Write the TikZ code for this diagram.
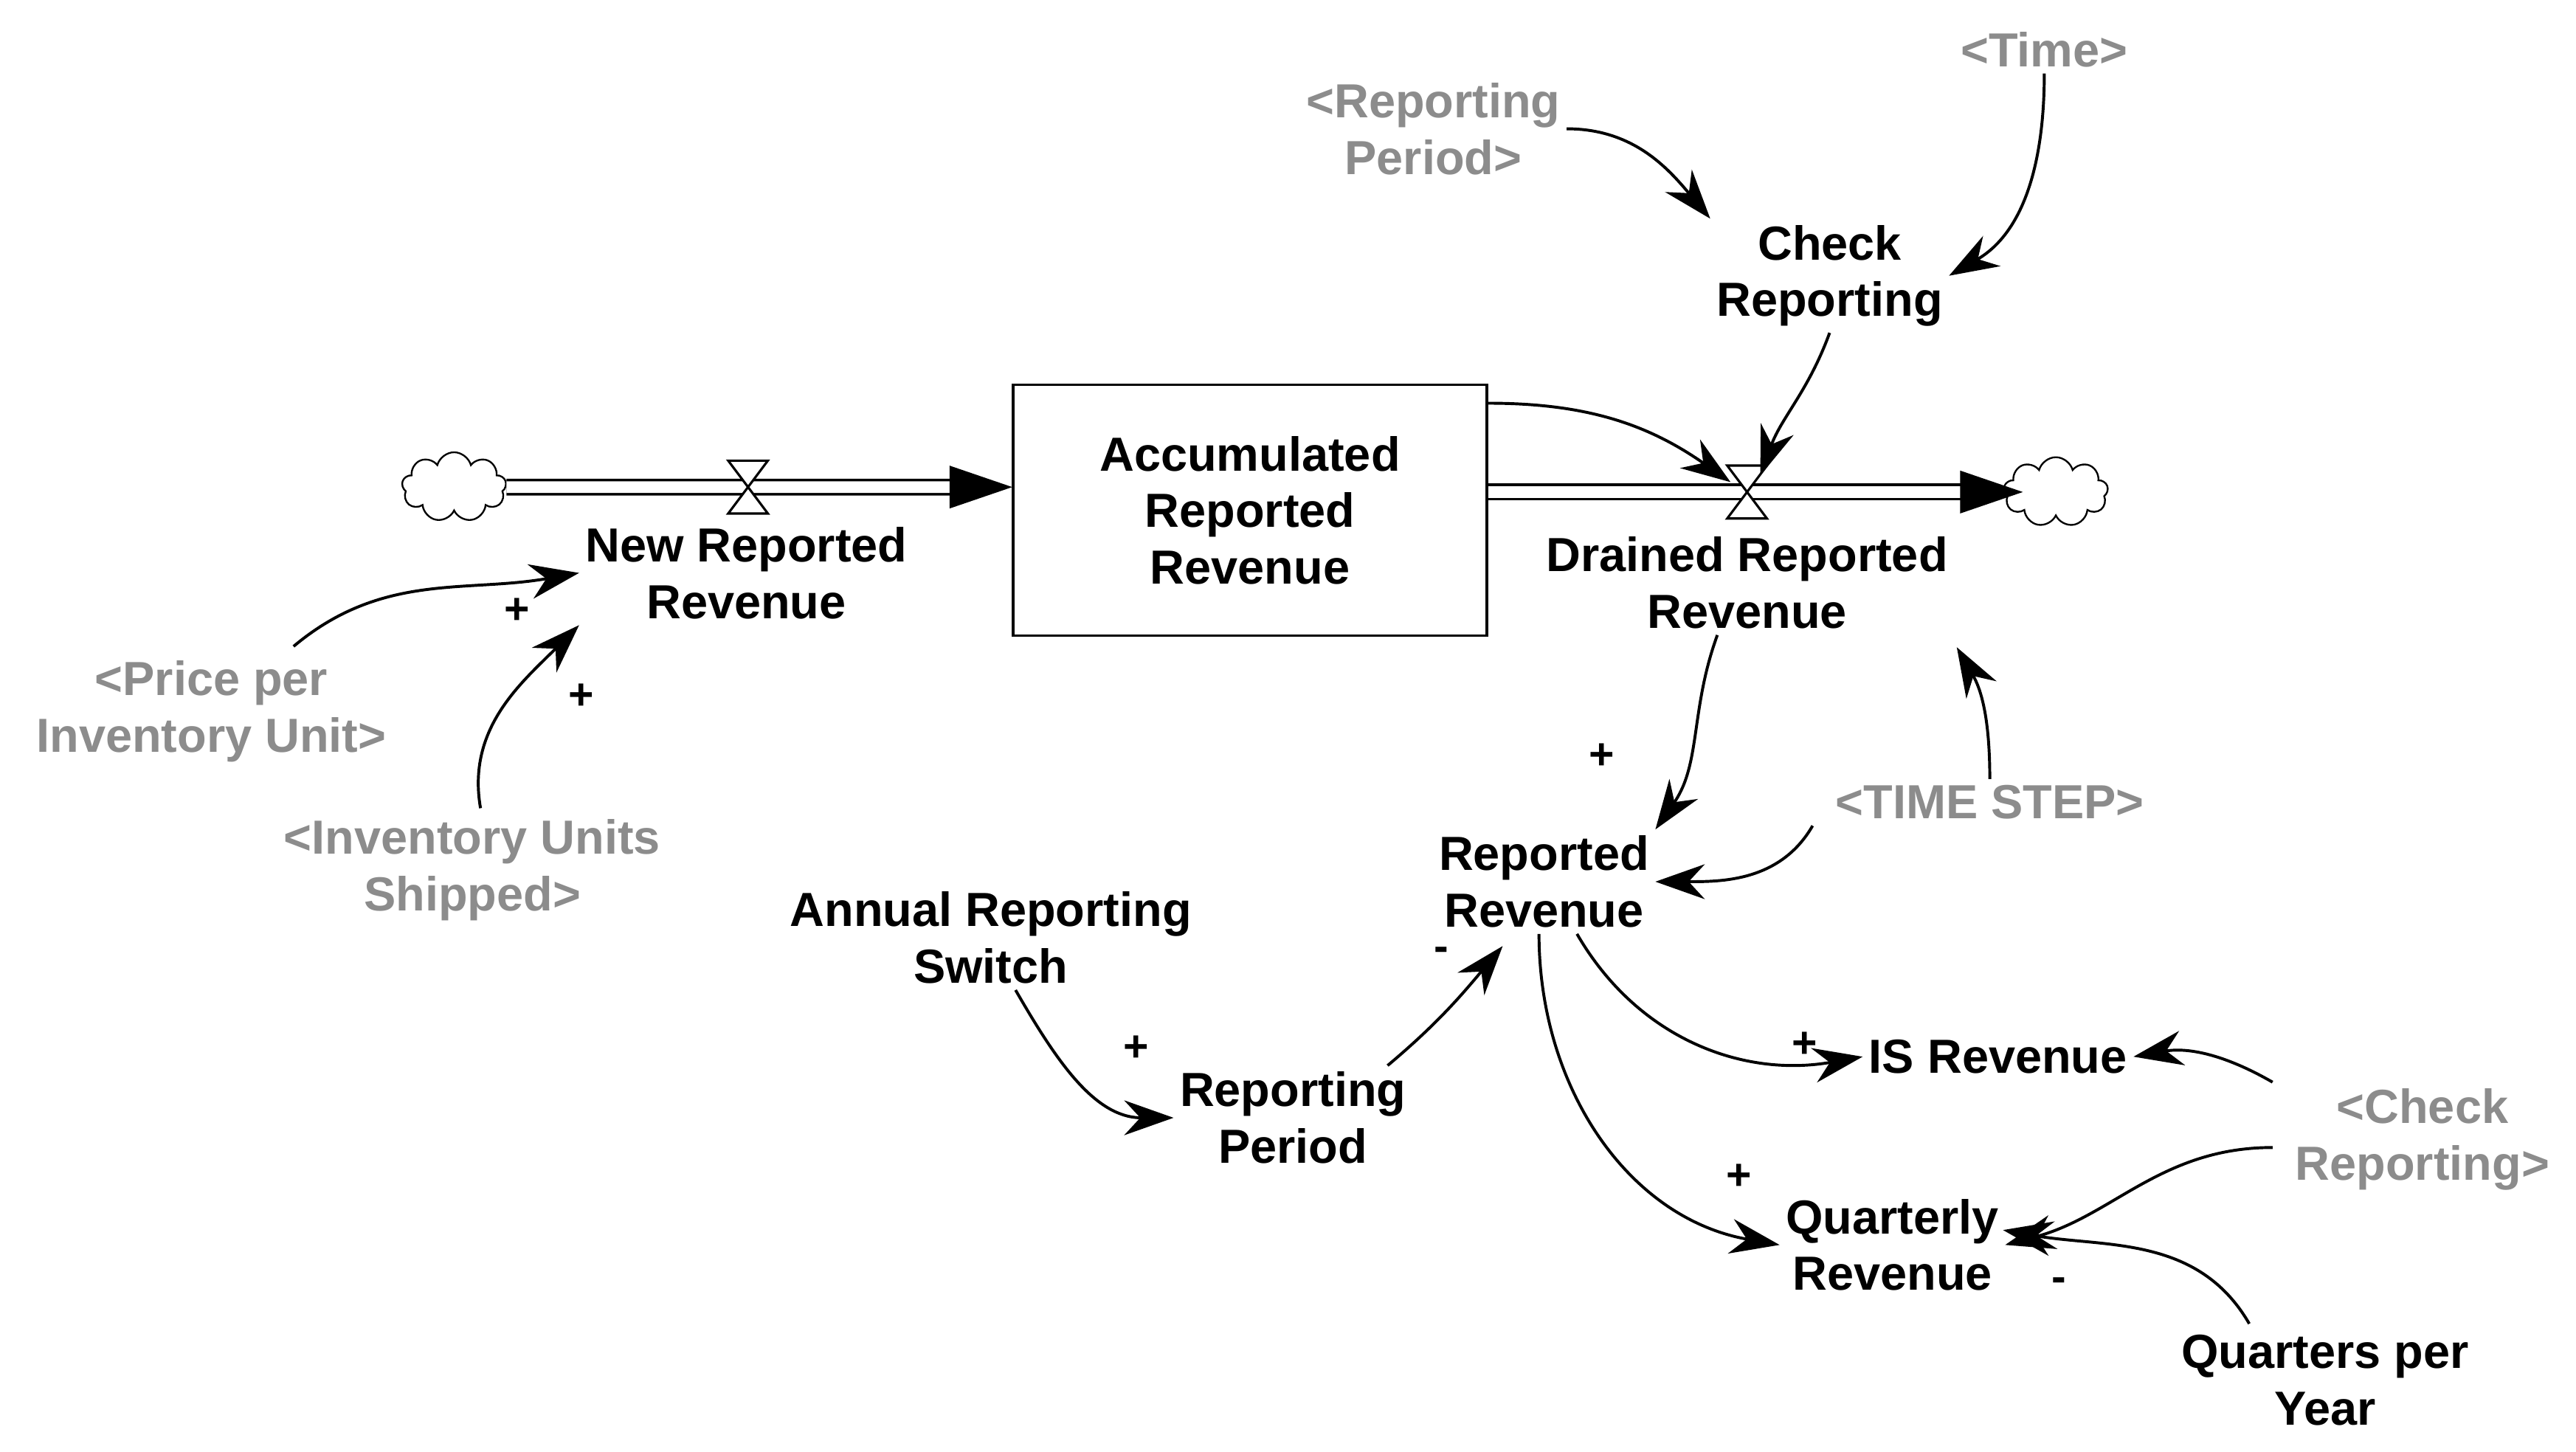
\documentclass[tikz,border=0pt]{standalone}
\usepackage{fontspec}
\setmainfont{Liberation Sans}
\usetikzlibrary{arrows.meta,shapes.symbols,calc}
\begin{document}
\begin{tikzpicture}[x=0.02cm,y=-0.02cm,
  v/.style={font=\fontsize{16.5}{19.5}\selectfont\bfseries,align=center,inner sep=2pt},
  g/.style={v,text=gray!90},
  sg/.style={font=\fontsize{15}{17}\selectfont\bfseries,inner sep=0pt},
  a/.style={-{Stealth[length=17pt,width=12pt]},line width=1pt},
  pipe/.style={double,double distance=4pt,line width=0.9pt},
  cl/.style={cloud,cloud puffs=9,draw,minimum width=36pt,minimum height=24pt,aspect=1.5,inner sep=0pt,line width=0.6pt}]
\useasboundingbox (0,0) rectangle (1560,879);
% stock
\node[v,draw,line width=0.9pt,minimum width=287*0.02cm,minimum height=152*0.02cm] (acc) at (757,309) {Accumulated\\Reported\\Revenue};
\node[cl] (c1) at (275,295) {};
\node[cl] (c2) at (1245,298) {};
% pipes
\coordinate (v1) at (453,295);
\coordinate (v2) at (1058,298);
\draw[pipe] (c1.east) -- (585,295);
\fill (613,295) -- (575,282) -- (575,308) -- cycle;
\draw[pipe] (acc.east |- v2) -- (1197,298);
\fill (1225,298) -- (1187,285) -- (1187,311) -- cycle;
\foreach \p in {v1,v2}{
 \draw[fill=white,line width=0.8pt] ($(\p)+(-12,-16)$) -- ($(\p)+(12,-16)$) -- (\p) -- cycle;
 \draw[fill=white,line width=0.8pt] ($(\p)+(-12,16)$) -- ($(\p)+(12,16)$) -- (\p) -- cycle;}
% nodes
\node[v] (nrr) at (452,347) {New Reported\\Revenue};
\node[v] (drr) at (1058,353) {Drained Reported\\Revenue};
\node[v] (chk) at (1108,167) {Check\\Reporting};
\node[g] (grp) at (868,78) {<Reporting\\Period>};
\node[g] (tim) at (1238,30) {<Time>};
\node[g] (pri) at (128,431) {<Price per\\Inventory Unit>};
\node[g] (ius) at (286,527) {<Inventory Units\\Shipped>};
\node[v] (rr) at (935,534) {Reported\\Revenue};
\node[g] (ts) at (1205,486) {<TIME STEP>};
\node[v] (ars) at (600,568) {Annual Reporting\\Switch};
\node[v] (rp) at (783,677) {Reporting\\Period};
\node[v] (isr) at (1210,640) {IS Revenue};
\node[g] (gcr) at (1467,690) {<Check\\Reporting>};
\node[v] (qr) at (1146,754) {Quarterly\\Revenue};
\node[v] (qpy) at (1408,836) {Quarters per\\Year};
% links
\draw[a] (grp.east) to[out=0,in=130] (chk.north west);
\draw[a] (tim.south) to[out=-90,in=30] (chk.east);
\draw[a] (chk.south) to[out=-110,in=70] ($(v2)+(8,-10)$);
\draw[a] ($(acc.north east)+(0,12)$) to[out=0,in=145] ($(v2)+(-10,-6)$);
\draw[a] ($(pri.north east)+(-60,-5)$) to[out=40,in=190] (nrr.west);
\draw[a] ($(ius.north)+(5,-3)$) to[out=100,in=225] (nrr.south west);
\draw[a] ($(drr.south)+(-18,0)$) to[out=-110,in=55] (rr.north east);
\draw[a] (ts.north) to[out=90,in=-60] (1185,392);
\draw[a] ($(ts.south west)+(-10,0)$) to[out=-120,in=0] (rr.east);
\draw[a] ($(ars.south)+(15,0)$) to[out=-60,in=180] (rp.west);
\draw[a] ($(rp.north east)+(-15,0)$) to[out=40,in=-130] (910,573);
\draw[a] ($(rr.south)+(20,0)$) to[out=-60,in=190] (isr.west);
\draw[a] ($(rr.south)+(-3,0)$) to[out=-90,in=170] (qr.west);
\draw[a] ($(gcr.north west)+(-10,0)$) to[out=150,in=10] (isr.east);
\draw[a] ($(gcr.west)+(-10,5)$) to[out=180,in=15] (qr.east);
\draw[a] ($(qpy.north west)+(45,-3)$) to[out=120,in=-10] (1213,745);
% polarities
\node[sg] at (313,370) {+};
\node[sg] at (352,422) {+};
\node[sg] at (970,458) {+};
\node[sg] at (688,635) {+};
\node[sg] at (873,578) {-};
\node[sg] at (1093,633) {+};
\node[sg] at (1053,713) {+};
\node[sg] at (1247,778) {-};
\end{tikzpicture}
\end{document}
